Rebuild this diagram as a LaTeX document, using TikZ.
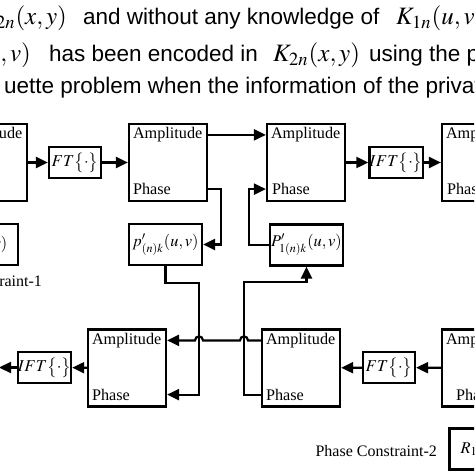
\documentclass[tikz,border=0pt]{standalone}
\usepackage{mathptmx}
\usepackage{fontspec}
\setmainfont{Liberation Serif}
\newfontfamily\sentfont{Liberation Sans}
\usetikzlibrary{calc,arrows.meta}

\begin{document}
\begin{tikzpicture}[x=0.5pt,y=-0.5pt,line width=1.1pt]
    % `block' is an amplitude/phase box, `operator' the FT and IFT boxes.
    % `constraint' is used for the phase constraint boxes.
    \tikzstyle{block} = [draw,minimum width=39pt,minimum height=38.5pt,inner sep=0pt]
    \tikzstyle{operator} = [draw,minimum width=26pt,minimum height=15.5pt,inner sep=0pt,font=\fontsize{8.3}{10}\selectfont]
    \tikzstyle{constraint} = [draw,minimum width=36.5pt,minimum height=20.5pt,inner sep=0pt,font=\fontsize{8.2}{10}\selectfont]
    \tikzstyle{port} = [anchor=west,inner sep=0pt,font=\fontsize{8.1}{9.6}\selectfont]
    \tikzstyle{note} = [anchor=east,inner sep=0pt,font=\fontsize{8}{9.6}\selectfont]
    \tikzstyle{sentence} = [anchor=base west,inner sep=0pt,font=\sentfont\fontsize{11.25}{13.5}\selectfont]
    \tikzstyle{formula} = [anchor=base west,inner sep=0pt,font=\fontsize{12.5}{15}\selectfont]
    \tikzstyle{flow} = [-{Triangle[length=6pt,width=5.5pt]}]
    %
    \useasboundingbox (0,0) rectangle (474,474);
    \clip (0,0) rectangle (474,474);
    % Text above the diagram.
    \node[formula,anchor=base east] (k2a) at (68,25) {$K_{2n}(x,y)$};
    \node[sentence] (t1) at (82,25) {and without any knowledge of};
    \node[formula] (k1a) at (395,25) {$K_{1n}(u,v)$};
    \node[formula,anchor=base east] (k1b) at (32,62) {$K_{1n}(u,v)$};
    \node[sentence] (t2) at (48,62) {has been encoded in};
    \node[formula] (k2b) at (272,62) {$K_{2n}(x,y)$};
    \node[sentence] (t3) at (368,62) {using the p};
    \node[sentence] (t4) at (3,94) {uette problem when the information of the private};
    % Amplitude/phase boxes.
    \foreach \n/\x/\y/\s in {1/-12/162.5/4, 2/168/162.5/4, 3/306/162.5/5, 6/481/162.5/5,
                             4/127/368/4, 5/301/368/4, 7/481/368/14} {
      \node[block] (b\n) at (\x,\y) {};
      \node[port] (a\n) at ($(b\n.north west)+(4,12)$) {Amplitude};
      \node[port] (ph\n) at ($(b\n.south west)+(\s,-13)$) {Phase};
    }
    \node[operator] (ft1) at (75,162.5) {$FT\bigl\{\cdot\bigr\}$};
    \node[operator] (ift1) at (396,162.5) {$IFT\bigl\{\cdot\bigr\}$};
    \node[operator] (ift2) at (44.5,367.5) {$IFT\bigl\{\cdot\bigr\}$};
    \node[operator] (ft2) at (389,367.5) {$FT\bigl\{\cdot\bigr\}$};
    \node[constraint] (pc1) at (165.5,244.5) {$p'_{(n)k}(u,v)$};
    \node[constraint] (pc2) at (306.5,245) {$P'_{1(n)k}(u,v)$};
    \node[constraint] (r2) at (-18.5,244.5) {$R_2(u,v)$};
    \node[constraint] (r1) at (486,449) {$R_1(x,y)$};
    \node[note] (c1) at (43,281) {Phase Constraint-1};
    \node[note] (c2) at (438,451) {Phase Constraint-2};
    \coordinate (bend1) at (199,283);
    \coordinate (bend2) at (244,282);
    \coordinate (out) at (-1,367.5);
    % Draw lines.
    \draw[flow] (b1) -- (ft1);
    \draw[flow] (ft1) -- (b2);
    \draw[flow] (b2.east |- a2) -- (b3.west |- a3);
    \draw[flow] (b2.east |- ph2) -- ++(13,0) |- (pc1.east);
    \draw[flow] (pc1.south) |- (bend1) |- (b4.east |- ph4);
    \draw[flow] (b5.west |- ph5) -| (bend2) -| (pc2.south);
    \draw[flow] (pc2.west) -- ++(-20,0) |- (b3.west |- ph3);
    \draw[flow] (b3) -- (ift1);
    \draw[flow] (ift1) -- (b6);
    \draw[flow] (b7) -- (ft2);
    \draw[flow] (ft2) -- (b5);
    \draw[flow] (b4) -- (ift2);
    \draw[flow] (ift2) -- (out);
    \draw[flow] (b5.west |- a5) -- ($(bend2 |- a5)+(4,0)$) arc[start angle=0,end angle=-180,radius=4]
      -- ($(bend1 |- a5)+(4,0)$) arc[start angle=0,end angle=-180,radius=4] -- (b4.east |- a4);
\end{tikzpicture}
\end{document}
